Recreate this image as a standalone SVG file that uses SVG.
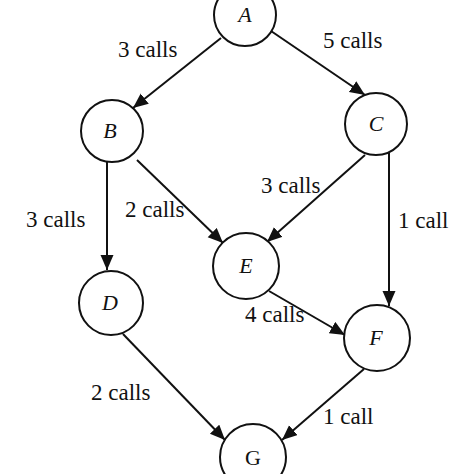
<svg xmlns="http://www.w3.org/2000/svg" width="474" height="474" viewBox="0 0 474 474">
<style>
.node circle{fill:#fff;stroke:#111;stroke-width:2}
.edge{stroke:#111;stroke-width:2;fill:none;marker-end:url(#arr)}
</style>
<defs>
<marker id="arr" markerUnits="userSpaceOnUse" markerWidth="16" markerHeight="14" refX="15" refY="6.5" orient="auto">
<path d="M0,0 L15,6.5 L0,13 z" fill="#111"/>
</marker>
</defs>
<rect width="474" height="474" fill="#fff"/>
<g id="connectors">
<line class="edge" x1="221" y1="38" x2="133" y2="108"/>
<line class="edge" x1="271" y1="31" x2="365" y2="95"/>
<line class="edge" x1="107" y1="162" x2="107" y2="270"/>
<line class="edge" x1="137" y1="160" x2="223" y2="243"/>
<line class="edge" x1="365" y1="155" x2="267" y2="242"/>
<line class="edge" x1="389" y1="153" x2="389" y2="306"/>
<line class="edge" x1="269" y1="291" x2="345" y2="335"/>
<line class="edge" x1="123" y1="334" x2="225" y2="440"/>
<line class="edge" x1="364" y1="369" x2="282" y2="440"/>
</g>
<g id="labels" font-family="Liberation Serif, serif" font-size="23" fill="#111">
<text x="118" y="57" font-family="Liberation Serif, serif">3 calls</text>
<text x="323" y="48" font-family="Liberation Serif, serif">5 calls</text>
<text x="26" y="227" font-family="Liberation Serif, serif">3 calls</text>
<text x="125" y="217" font-family="Liberation Serif, serif">2 calls</text>
<text x="261" y="193" font-family="Liberation Serif, serif">3 calls</text>
<text x="398" y="228" font-family="Liberation Serif, serif">1 call</text>
<text x="245" y="322" font-family="Liberation Serif, serif">4 calls</text>
<text x="91" y="400" font-family="Liberation Serif, serif">2 calls</text>
<text x="323" y="424" font-family="Liberation Serif, serif">1 call</text>
</g>
<g font-family="Liberation Serif, serif" font-style="italic" font-size="22" fill="#111" text-anchor="middle">
<g id="A" class="node"><circle cx="245" cy="15" r="31"/><text x="245" y="22" font-family="Liberation Serif, serif">A</text></g>
<g id="B" class="node"><circle cx="112" cy="131" r="31"/><text x="110" y="138" font-family="Liberation Serif, serif">B</text></g>
<g id="C" class="node"><circle cx="376" cy="124" r="31"/><text x="376" y="131" font-family="Liberation Serif, serif">C</text></g>
<g id="D" class="node"><circle cx="111" cy="303" r="32"/><text x="110" y="310" font-family="Liberation Serif, serif">D</text></g>
<g id="E" class="node"><circle cx="246" cy="266" r="33"/><text x="246" y="273" font-family="Liberation Serif, serif">E</text></g>
<g id="F" class="node"><circle cx="377" cy="338" r="33"/><text x="376" y="345" font-family="Liberation Serif, serif">F</text></g>
<g id="G" class="node"><circle cx="253" cy="457" r="33"/><text x="253" y="465" font-family="Liberation Serif, serif" font-style="normal">G</text></g>
</g>
</svg>
